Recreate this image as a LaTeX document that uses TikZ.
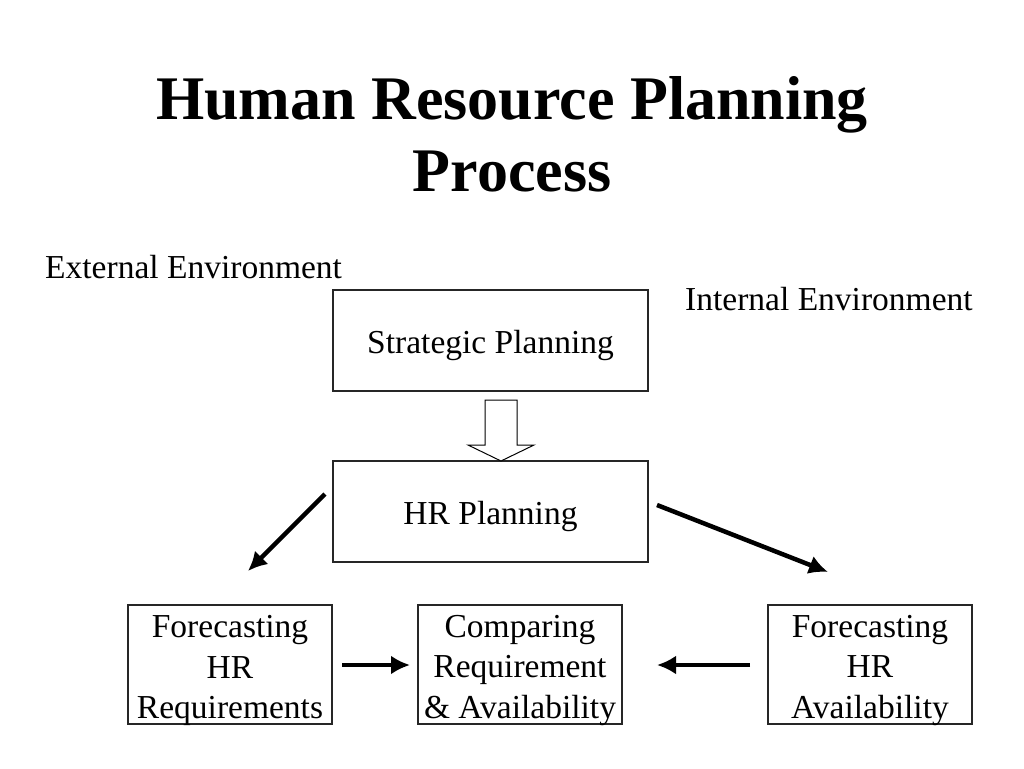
\documentclass[tikz,border=0pt]{standalone}
\usepackage{fontspec}
\setmainfont{Liberation Serif}
\usetikzlibrary{arrows.meta}
\begin{document}
\begin{tikzpicture}[x=1pt,y=-1pt,
  box/.style={draw=black!85,line width=1.3pt,inner sep=0pt},
  boxtext/.style={inner sep=0pt,align=center,font=\fontsize{33.5}{40.5}\selectfont},
  thick arrow/.style={line width=4.5pt,-{Latex[length=19pt,width=19pt]}},
  label/.style={font=\fontsize{33.5}{40}\selectfont,inner sep=0pt}]
\useasboundingbox (0,0) rectangle (1024,768);
\node[font=\bfseries\fontsize{62}{72}\selectfont,align=center] (title) at (512,134) {Human Resource Planning\\Process};
\node[label,anchor=base west] (ext) at (45,278) {External Environment};
\node[label,anchor=base west] (int) at (685,310) {Internal Environment};
\node[box,minimum width=315pt,minimum height=101pt] (sp) at (490.5,340.5) {};
\node[boxtext] (spt) at ([yshift=-5pt]sp.center) {Strategic Planning};
\node[box,minimum width=315pt,minimum height=101pt] (hr) at (490.5,511.5) {};
\node[boxtext] (hrt) at ([yshift=-5pt]hr.center) {HR Planning};
\node[box,minimum width=204pt,minimum height=119pt] (freq) at (230,664.5) {};
\node[boxtext] (freqt) at ([yshift=-6pt]freq.center) {Forecasting\\HR\\Requirements};
\node[box,minimum width=204pt,minimum height=119pt] (cmp) at (520,664.5) {};
\node[boxtext] (cmpt) at ([yshift=-6pt]cmp.center) {Comparing\\Requirement\\\& Availability};
\node[box,minimum width=204pt,minimum height=119pt] (fav) at (870,664.5) {};
\node[boxtext] (favt) at ([yshift=-6pt]fav.center) {Forecasting\\HR\\Availability};
% hollow arrow
\draw[line width=1pt,fill=white] (485,400) -- (517,400) -- (517,445) -- (534,445) -- (501,461) -- (468,445) -- (485,445) -- cycle;
\coordinate (l1) at (325,494);
\coordinate (l2) at (248,571);
\coordinate (r1) at (657,505);
\coordinate (r2) at (828,572);
\coordinate (h1) at (342,665);
\coordinate (h2) at (410,665);
\coordinate (k1) at (750,665);
\coordinate (k2) at (657,665);
\draw[thick arrow] (l1) -- (l2);
\draw[thick arrow] (r1) -- (r2);
\draw[thick arrow] (h1) -- (h2);
\draw[thick arrow] (k1) -- (k2);
\end{tikzpicture}
\end{document}
